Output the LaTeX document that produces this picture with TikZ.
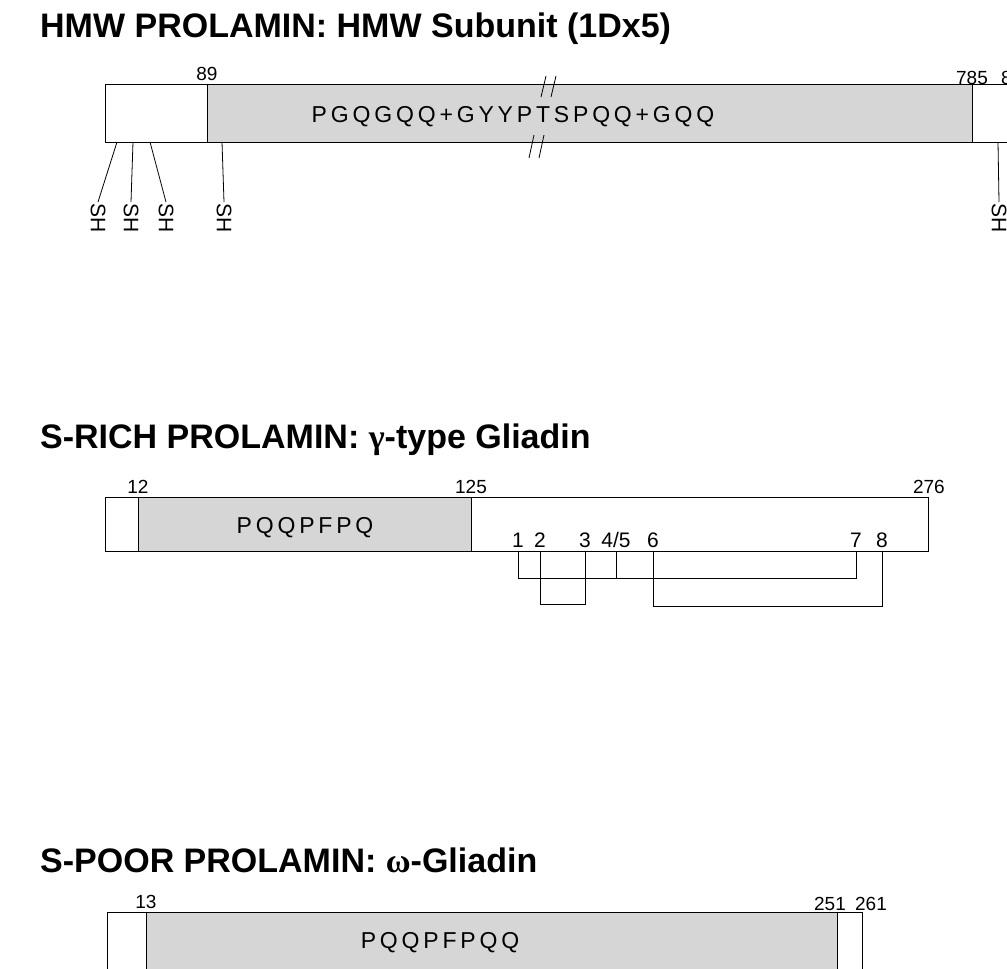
\documentclass[tikz,border=0pt]{standalone}
\usepackage{fontspec}
\setmainfont{Liberation Sans}
\newfontfamily\grk{Liberation Serif}
\begin{document}
\begin{tikzpicture}[x=1pt,y=-1pt,
  title/.style={anchor=west,font=\bfseries\fontsize{34}{36}\selectfont,inner sep=0},
  num/.style={anchor=south,font=\fontsize{19}{20}\selectfont,inner sep=1},
  seq/.style={font=\fontsize{23}{24}\selectfont,inner sep=0},
  shade/.style={fill=black!16},
  sh/.style={rotate=-90,font=\fontsize{21}{22}\selectfont,inner sep=1,anchor=west},
  ln/.style={line width=0.8pt}]
\useasboundingbox (0,0) rectangle (1007,969);
\begin{scope}
\clip (0,0) rectangle (1007,969);
% HMW
\node[title] (t1) at (40,29) {HMW PROLAMIN: HMW Subunit (1Dx5)};
\draw[ln,shade] (207,84) rectangle (972,142);
\draw[ln] (105,84) rectangle (207,142);
\draw[ln] (972,84) rectangle (1030,142);
\node[seq] (s1) at (513,117) {P\,G\,Q\,G\,Q\,Q\,+\,G\,Y\,Y\,P\,T\,S\,P\,Q\,Q\,+\,G\,Q\,Q};
\draw[ln] (546,76) -- (541,97) (556,76) -- (551,97);
\draw[ln] (534,135) -- (529,158) (544,135) -- (539,158);
\node[num] (n89) at (207,82) {89};
\node[num] (n785) at (972,86) {785};
\node[num,anchor=south west] (n8) at (1000,86) {8};
\coordinate (a1) at (117,142); \coordinate (a2) at (133,142); \coordinate (a3) at (150,142);
\coordinate (a4) at (222,142); \coordinate (a5) at (998,142);
\node[sh] (h1) at (98,202) {SH};
\node[sh] (h2) at (131,202) {SH};
\node[sh] (h3) at (166,202) {SH};
\node[sh] (h4) at (224,202) {SH};
\node[sh] (h5) at (999,202) {SH};
\draw[ln] (a1) -- (h1.west) (a2) -- (h2.west) (a3) -- (h3.west) (a4) -- (h4.west) (a5) -- (h5.west);
% gamma
\node[title] (t2) at (40,440) {S-RICH PROLAMIN: {\grk γ}-type Gliadin};
\draw[ln] (105,497) rectangle (928,551);
\draw[ln,shade] (138,497) rectangle (471,551);
\node[seq] (s2) at (305,528) {P\,Q\,Q\,P\,F\,P\,Q};
\node[num] (n12) at (138,495) {12};
\node[num] (n125) at (471,495) {125};
\node[num,anchor=south east] (n276) at (946,495) {276};
\foreach \n/\x/\t in {c1/518/1,c2/540/2,c3/585/3,c45/616/{4/5},c6/653/6,c7/856/7,c8/882/8}
  \node[num,font=\fontsize{21}{22}\selectfont,anchor=base] (\n) at (\x,547) {\t};
\draw[ln] (518,551) |- (856,578) -- (856,551);
\draw[ln] (616,551) -- (616,578);
\draw[ln] (540,551) |- (585,604) -- (585,551);
\draw[ln] (653,551) |- (882,606) -- (882,551);
% omega
\node[title] (t3) at (40,860) {S-POOR PROLAMIN: {\grk ω}-Gliadin};
\draw[ln] (107,912) rectangle (862,970);
\draw[ln,shade] (146,912) rectangle (837,970);
\node[seq] (s3) at (440,943) {P\,Q\,Q\,P\,F\,P\,Q\,Q};
\node[num] (n13) at (146,910) {13};
\node[num] (n251) at (830,912) {251};
\node[num] (n261) at (871,912) {261};
\end{scope}
\end{tikzpicture}
\end{document}
